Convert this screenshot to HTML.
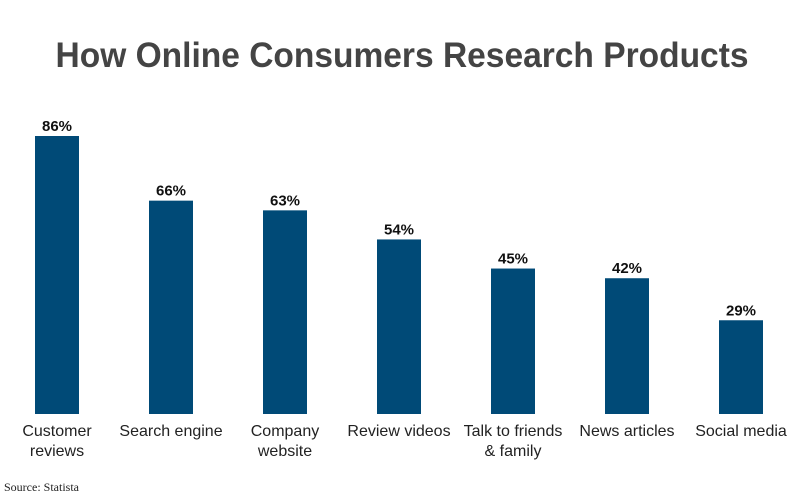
<!DOCTYPE html>
<html><head><meta charset="utf-8"><style>
body{margin:0;background:#fff;width:800px;height:500px;overflow:hidden}
svg{display:block}
</style></head><body>
<svg width="800" height="500">
<text x="402" y="67" text-anchor="middle" textLength="693" lengthAdjust="spacingAndGlyphs" font-family="Liberation Sans, sans-serif" font-weight="bold" font-size="35" fill="#444">How Online Consumers Research Products</text>
<g id="bars"></g>
<text x="4" y="491" font-family="Liberation Serif, serif" font-size="12" fill="#222">Source: Statista</text>
</svg>
<script>
const categories = [["Customer","reviews"],["Search engine"],["Company","website"],["Review videos"],["Talk to friends","& family"],["News articles"],["Social media"]];
const values = [86,66,63,54,45,42,29];
const valueLabels = ["86%","66%","63%","54%","45%","42%","29%"];
const NS="http://www.w3.org/2000/svg";
const g=document.getElementById("bars");
const baseY=414, pxPer=278/86, x0=57, step=114, bw=44;
function xScale(i){return x0+i*step;}
function yScale(v){return baseY-v*pxPer;}
values.forEach((v,i)=>{
  const cx=xScale(i), top=yScale(v);
  const r=document.createElementNS(NS,"rect");
  r.setAttribute("x",cx-bw/2);r.setAttribute("y",top);r.setAttribute("width",bw);r.setAttribute("height",baseY-top);r.setAttribute("fill","#004a77");
  
  
  g.appendChild(r);
  const t=document.createElementNS(NS,"text");
  t.setAttribute("x",cx);t.setAttribute("y",top-5);t.setAttribute("text-anchor","middle");
  t.setAttribute("font-family","Liberation Sans, sans-serif");t.setAttribute("font-weight","bold");t.setAttribute("font-size","15");t.setAttribute("fill","#111");
  t.textContent=valueLabels[i];
  
  
  g.appendChild(t);
  categories[i].forEach((line,j)=>{
    const c=document.createElementNS(NS,"text");
    c.setAttribute("x",cx);c.setAttribute("y",436+j*20);c.setAttribute("text-anchor","middle");
    c.setAttribute("font-family","Liberation Sans, sans-serif");c.setAttribute("font-size","16");c.setAttribute("fill","#222");
    c.textContent=line;
    
    
    g.appendChild(c);
  });
});
</script>
</body></html>
